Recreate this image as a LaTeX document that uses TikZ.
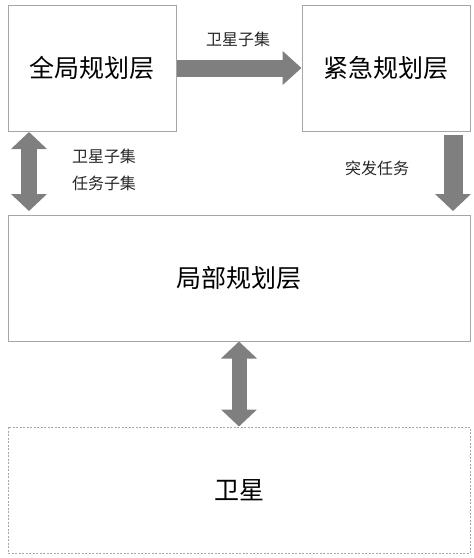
\documentclass[tikz,border=0pt]{standalone}
\usepackage{fontspec}
\setmainfont{Noto Sans CJK SC}
\usetikzlibrary{arrows.meta}
\definecolor{boxgray}{HTML}{A6A6A6}
\definecolor{arrowgray}{HTML}{7F7F7F}
\begin{document}
\begin{tikzpicture}[x=1pt,y=-1pt,
  box/.style={draw=boxgray, line width=1pt, inner sep=0pt, minimum height=126pt,
    font=\fontsize{25}{30}\selectfont},
  dbox/.style={box, dash pattern=on 2pt off 1.5pt},
  lbl/.style={font=\fontsize{16}{27}\selectfont, text=black!85, align=left, inner sep=0pt},
  fatone/.style={draw=arrowgray, line width=17pt, -{Triangle[width=33pt,length=19pt]}},
  fattwo/.style={draw=arrowgray, line width=16pt, {Triangle[width=35pt,length=17pt]}-{Triangle[width=35pt,length=17pt]}}
]
\useasboundingbox (0,0) rectangle (474,558);
\node[box, minimum width=168pt] (A) at (92,68) {全局规划层};
\node[box, minimum width=168pt] (B) at (386,68) {紧急规划层};
\node[box, minimum width=462pt] (C) at (239,278) {局部规划层};
\node[dbox, minimum width=462pt] (D) at (239,490) {卫星};
\coordinate (l1) at (29,132);
\coordinate (l2) at (29,211);
\coordinate (r1) at (453,135);
\coordinate (r2) at (453,211);
\draw[fatone] (A.east) -- (B.west);
\draw[fattwo] (l1) -- (l2);
\draw[fatone, line width=19pt, -{Triangle[width=35pt,length=17pt]}] (r1) -- (r2);
\draw[fattwo, line width=15pt] (C.south) -- (D.north);
\node[lbl] (t1) at (238,39) {卫星子集};
\node[lbl] (t2) at (104,170) {卫星子集\\任务子集};
\node[lbl] (t3) at (377,168) {突发任务};
\end{tikzpicture}
\end{document}
